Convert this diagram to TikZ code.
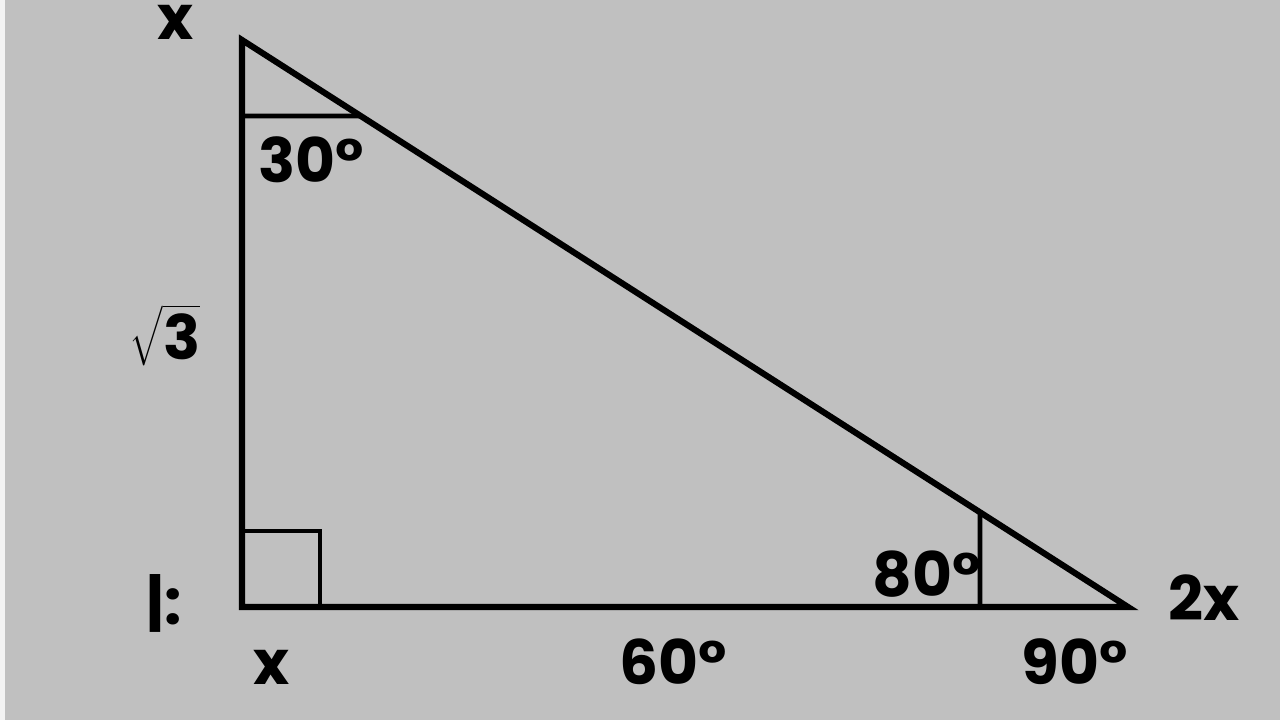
\documentclass[tikz,border=0pt]{standalone}
\usepackage{exscale}
\usepackage{fontspec}
\setmainfont{Poppins}
\usetikzlibrary{calc}
\definecolor{bg}{RGB}{192,192,192}
\begin{document}
\begin{tikzpicture}[x=0.75pt,y=-0.75pt,
  edge/.style={line width=4.6pt,line join=miter,black},
  thin edge/.style={line width=3.6pt,black},
  lbl/.style={font=\fontsize{46}{50}\selectfont\bfseries,inner sep=0pt,text=black}]
\fill[bg] (0,0) rectangle (1280,720);
\fill[white!80!bg] (0,0) rectangle (5,720);
\useasboundingbox (0,0) rectangle (1280,720);
\coordinate (A) at (242,40);
\coordinate (B) at (242,607);
\coordinate (C) at (1128,607);
% angle marks
\coordinate (T1) at (242,116);
\coordinate (T2) at ($(A)!{(116-40)/(607-40)}!(C)$);
\draw[thin edge] (T1) -- (T2);
\coordinate (V1) at (980,607);
\coordinate (V2) at ($(A)!{(980-242)/(1128-242)}!(C)$);
\draw[thin edge] (V1) -- (V2);
\coordinate (S1) at (242,531);
\coordinate (S2) at (320,531);
\coordinate (S3) at (320,607);
\draw[line width=3pt] (S1) -- (S2) -- (S3);
\draw[edge] (A) -- (B) -- (C) -- cycle;
% labels
\node[lbl] (lx1) at (176,22) {x};
\node[lbl] (l30) at (311,160) {30°};
\node[lbl] (lsq) at (165,335) {$\sqrt{\hbox{\bfseries 3}}$};
\node[lbl] (lbar) at (164,603) {|:};
\node[lbl] (lx2) at (272,667) {x};
\node[lbl] (l60) at (673,662) {60°};
\node[lbl] (l80) at (927,574) {80°};
\node[lbl] (l2x) at (1204,598) {2x};
\node[lbl] (l90) at (1075,662) {90°};
\end{tikzpicture}
\end{document}
